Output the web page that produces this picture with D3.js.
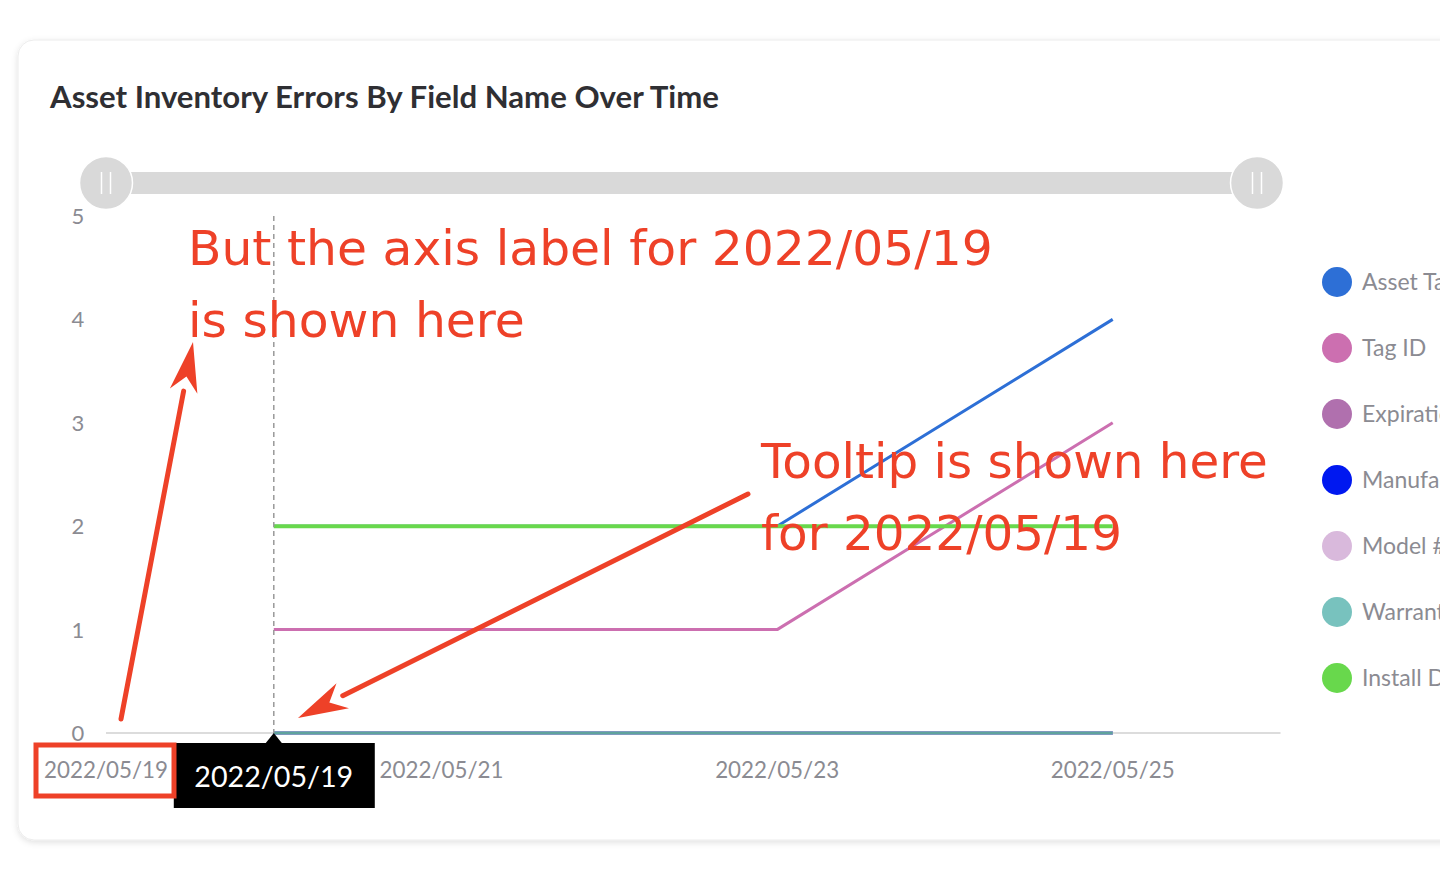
<!DOCTYPE html>
<html>
<head>
<meta charset="utf-8">
<script src="https://cdn.jsdelivr.net/npm/d3@7"></script>
<style>
  html, body { margin: 0; padding: 0; background: #fff; overflow: hidden; }
  svg { display: block; }
</style>
</head>
<body>
<svg id="chart" width="1440" height="878"></svg>
<script>
// ---------- data ----------
const title = "Asset Inventory Errors By Field Name Over Time";
const dates = ["2022-05-20", "2022-05-21", "2022-05-22", "2022-05-23", "2022-05-24", "2022-05-25"];
const seriesNames = ["Asset Tag", "Tag ID", "Expiration Date", "Manufacturer", "Model #", "Warranty Date", "Install Date"];
const seriesColors = ["#2d6fd6", "#cc6fb0", "#b070ae", "#0018f0", "#d9b9dc", "#78c2be", "#68d84c"];
const assetTag = [2, 2, 2, 2, 3, 4];
const tagId = [1, 1, 1, 1, 2, 3];
const expirationDate = [0, 0, 0, 0, 0, 0];
const manufacturer = [0, 0, 0, 0, 0, 0];
const modelNo = [0, 0, 0, 0, 0, 0];
const warrantyDate = [0, 0, 0, 0, 0, 0];
const installDate = [2, 2, 2, 2, 2, 2];
const seriesValues = [assetTag, tagId, expirationDate, manufacturer, modelNo, warrantyDate, installDate];
// draw order (later on top)
const drawOrder = [2, 3, 4, 0, 1, 6, 5];
const xDomain = ["2022-05-19", "2022-05-26"];
const xTickLabels = ["2022-05-19", "2022-05-21", "2022-05-23", "2022-05-25"];
const yTicks = [0, 1, 2, 3, 4, 5];
const tooltipDate = "2022-05-20";
const tooltipText = "2022/05/19";
const note1 = ["But the axis label for 2022/05/19", "is shown here"];
const note2 = ["Tooltip is shown here", "for 2022/05/19"];

// ---------- setup ----------
const svg = d3.select("#chart");
const parse = d3.timeParse("%Y-%m-%d");
const fmt = d3.timeFormat("%Y/%m/%d");
const red = "#ee4128";
const gray = "#8b8b92";

const defs = svg.append("defs");
const f = defs.append("filter").attr("id", "shadow").attr("x", "-5%").attr("y", "-5%").attr("width", "110%").attr("height", "115%");
f.append("feDropShadow").attr("dx", 0).attr("dy", 2).attr("stdDeviation", 3).attr("flood-color", "#000").attr("flood-opacity", 0.12);

// card
svg.append("rect").attr("x", 18).attr("y", 40).attr("width", 1460).attr("height", 800)
  .attr("rx", 16).attr("fill", "#fff").attr("stroke", "#ececec").attr("stroke-width", 1)
  .attr("filter", "url(#shadow)");

function fit(sel, w) {
  const cur = parseFloat(sel.attr("font-size"));
  const len = sel.node().getComputedTextLength();
  sel.attr("font-size", (cur * w / len).toFixed(2));
}

// title
const t = svg.append("text").attr("x", 50).attr("y", 108).text(title)
  .attr("font-family", "Lato, 'Open Sans', sans-serif").attr("font-weight", 700)
  .attr("font-size", 28).attr("fill", "#2f2f33");
fit(t, 669);

// scales
const x = d3.scaleTime().domain(xDomain.map(parse)).range([106, 1280.5]);
const y = d3.scaleLinear().domain([0, 5]).range([733, 216]);

// slider
const sl = svg.append("g");
sl.append("rect").attr("x", 106).attr("y", 172).attr("width", 1257 - 106).attr("height", 22).attr("fill", "#d9d9d9");
[106, 1257].forEach(cx => {
  sl.append("circle").attr("cx", cx).attr("cy", 183).attr("r", 26.5).attr("fill", "#d9d9d9").attr("stroke", "#fff").attr("stroke-width", 1.5);
  [-4.5, 4.5].forEach(dx => sl.append("line").attr("x1", cx + dx).attr("x2", cx + dx).attr("y1", 172).attr("y2", 194)
    .attr("stroke", "#fff").attr("stroke-width", 1.5));
});

// y axis labels
svg.append("g").selectAll("text").data(yTicks).join("text")
  .attr("x", 78).attr("y", d => y(d)).attr("dy", "0.36em").attr("text-anchor", "middle")
  .attr("font-family", "Lato, sans-serif").attr("font-size", 22).attr("fill", gray).text(d => d);

// x axis line
svg.append("line").attr("x1", x.range()[0]).attr("x2", x.range()[1]).attr("y1", y(0)).attr("y2", y(0))
  .attr("stroke", "#dcdcdc").attr("stroke-width", 2);

// x tick labels
const xt = svg.append("g").selectAll("text").data(xTickLabels).join("text")
  .attr("x", d => x(parse(d))).attr("y", 778).attr("text-anchor", "middle")
  .attr("font-family", "Lato, sans-serif").attr("font-size", 20).attr("fill", gray).text(d => fmt(parse(d)));
xt.each(function() { fit(d3.select(this), 124); });

// lines
const line = d3.line().x((d, i) => x(parse(dates[i]))).y(d => y(d));
svg.append("g").selectAll("path").data(drawOrder).join("path")
  .attr("d", i => line(seriesValues[i]))
  .attr("fill", "none").attr("stroke", i => i === 5 ? "#5fa39d" : seriesColors[i])
  .attr("stroke-width", i => i === 6 ? 4 : 3)
  .attr("stroke-linejoin", "round");

// hover dashed line
const tx = x(parse(tooltipDate));
svg.append("line").attr("x1", tx).attr("x2", tx).attr("y1", y(5)).attr("y2", y(0))
  .attr("stroke", "#999").attr("stroke-width", 1.5).attr("stroke-dasharray", "5,4");

// tooltip
const tt = svg.append("g");
tt.append("path").attr("d", `M${tx},${y(0)} L${tx - 8},${y(0) + 10} L${tx + 8},${y(0) + 10} Z`).attr("fill", "#000");
tt.append("rect").attr("x", tx - 100).attr("y", y(0) + 10).attr("width", 201).attr("height", 65).attr("fill", "#000");
const ttt = tt.append("text").attr("x", tx).attr("y", 787).attr("text-anchor", "middle")
  .attr("font-family", "Lato, sans-serif").attr("font-size", 30).attr("fill", "#fff").text(tooltipText);
fit(ttt, 159);

// legend
const lg = svg.append("g").selectAll("g").data(seriesNames).join("g")
  .attr("transform", (d, i) => `translate(1337, ${282 + i * 66})`);
lg.append("circle").attr("r", 15).attr("fill", (d, i) => seriesColors[i]);
lg.append("text").attr("x", 25).attr("dy", "0.35em").attr("font-family", "Lato, sans-serif")
  .attr("font-size", 23).attr("fill", gray).text(d => d);

// annotations
const ann = svg.append("g");
function noteText(lines, x0, y0, w) {
  lines.forEach((s, i) => {
    const tx_ = ann.append("text").attr("x", x0).attr("y", y0 + i * 72)
      .attr("font-family", "'DejaVu Sans', Verdana, sans-serif").attr("font-size", 46).attr("fill", red).text(s);
    if (i === 0) fit(tx_, w);
  });
}
noteText(note1, 188, 265, 805);
noteText(note2, 761, 478, 507);
// make second lines match first line font size
ann.selectAll("text").each(function(d, i, nodes) {
  if (i === 1) d3.select(this).attr("font-size", d3.select(nodes[0]).attr("font-size"));
  if (i === 3) d3.select(this).attr("font-size", d3.select(nodes[2]).attr("font-size"));
});

function arrow(x1, y1, x2, y2) {
  const ang = Math.atan2(y2 - y1, x2 - x1);
  const L = 50, W = 14;
  const bx = x2 - L * Math.cos(ang), by = y2 - L * Math.sin(ang);
  ann.append("line").attr("x1", x1).attr("y1", y1).attr("x2", bx).attr("y2", by)
    .attr("stroke", red).attr("stroke-width", 5).attr("stroke-linecap", "round");
  const px = -Math.sin(ang) * W, py = Math.cos(ang) * W;
  ann.append("path").attr("d", `M${x2},${y2} L${bx + px},${by + py} L${bx + 0.3 * L * Math.cos(ang)},${by + 0.3 * L * Math.sin(ang)} L${bx - px},${by - py} Z`)
    .attr("fill", red);
}
arrow(121, 719, 193, 342);
arrow(748, 494, 298, 718);

// red box
ann.append("rect").attr("x", 36).attr("y", 745).attr("width", 138).attr("height", 51)
  .attr("fill", "none").attr("stroke", red).attr("stroke-width", 5);
</script>
</body>
</html>
